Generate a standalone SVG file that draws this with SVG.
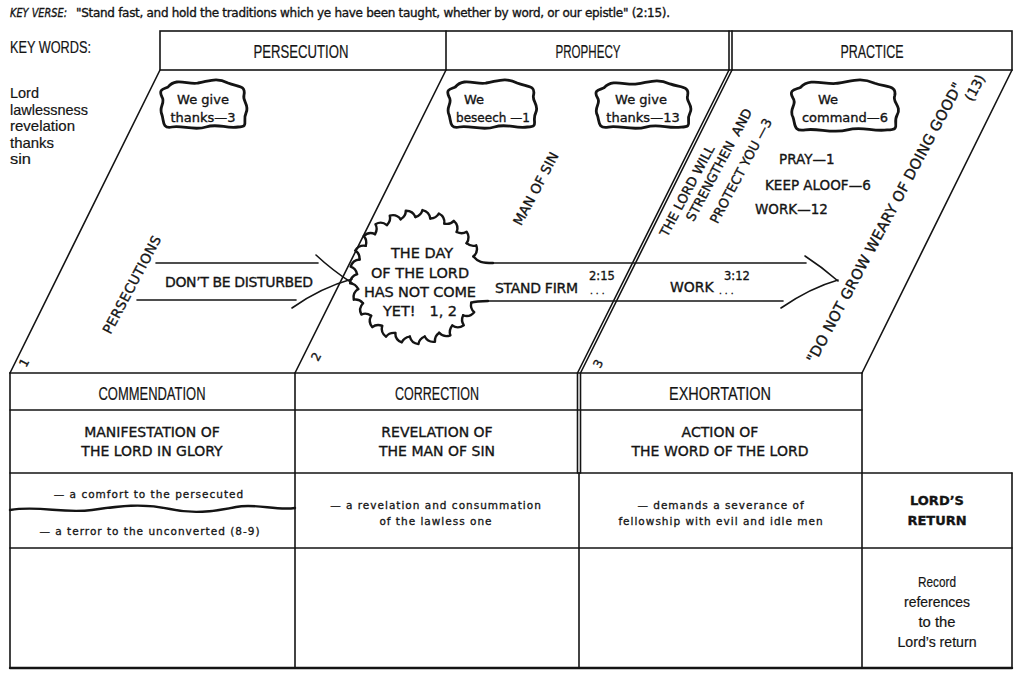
<svg xmlns="http://www.w3.org/2000/svg" xmlns:xlink="http://www.w3.org/1999/xlink" width="1022" height="674" viewBox="0 0 1022 674">
<style>
.ln{stroke:#141414;stroke-width:1.6;fill:none;stroke-linecap:round}
.bd{stroke:#141414;stroke-width:2.4;fill:none;stroke-linejoin:round;stroke-linecap:round}
.cl{stroke:#141414;stroke-width:2.8;fill:#fff;stroke-linejoin:round}
.g{font-family:"DejaVu Sans","Liberation Sans",sans-serif;fill:#141414;stroke:#141414;stroke-width:0.35px}
.c{font-family:"Liberation Sans",Arial,sans-serif;fill:#141414;stroke:#141414;stroke-width:0.2px}
.m{text-anchor:middle}
.s{font-size:10.5px;letter-spacing:1px;stroke-width:0.3px}
.kw{font-size:15px}
</style>
<defs>
<path id="cloud" vector-effect="non-scaling-stroke" d="M10,8 C18,-2 30,6 40,4 C52,2 58,-2 70,4 C80,8 88,6 86,16 C84,22 92,26 88,34 C84,42 92,48 80,48 C68,50 60,44 48,48 C36,52 24,46 14,48 C4,50 6,42 4,36 C0,28 8,24 4,18 C0,10 6,10 10,8 Z"/>
<path id="tooth" d="M60,0 C64,-1.5 66.5,-4.5 66.5,-9.5 C63,-9.5 60,-11.5 58.14,-14.82"/>
</defs>
<rect width="1022" height="674" fill="#fff"/>

<g id="key">
<text class="g" x="10" y="17" font-size="12" font-style="italic" textLength="57" lengthAdjust="spacingAndGlyphs">KEY VERSE:</text>
<text class="g" x="76" y="17" font-size="12" textLength="594" lengthAdjust="spacing">"Stand fast, and hold the traditions which ye have been taught, whether by word, or our epistle" (2:15).</text>
<text class="c" x="10" y="53" font-size="17" textLength="81" lengthAdjust="spacingAndGlyphs">KEY WORDS:</text>
<text class="c kw" x="10" y="98" textLength="29" lengthAdjust="spacingAndGlyphs">Lord</text>
<text class="c kw" x="10" y="114.5" textLength="78" lengthAdjust="spacingAndGlyphs">lawlessness</text>
<text class="c kw" x="10" y="131" textLength="65" lengthAdjust="spacingAndGlyphs">revelation</text>
<text class="c kw" x="10" y="147.5" textLength="44" lengthAdjust="spacingAndGlyphs">thanks</text>
<text class="c kw" x="10" y="164" textLength="21" lengthAdjust="spacingAndGlyphs">sin</text>
</g>

<g id="header">
<rect class="ln" x="160" y="31" width="852" height="39"/>
<line class="ln" x1="446" y1="31" x2="446" y2="70"/>
<line class="ln" x1="729" y1="31" x2="729" y2="70"/>
<line class="ln" x1="732" y1="31" x2="732" y2="70"/>
<text class="c m" x="301" y="58" font-size="18" textLength="95" lengthAdjust="spacingAndGlyphs">PERSECUTION</text>
<text class="c m" x="588" y="58" font-size="18" textLength="65" lengthAdjust="spacingAndGlyphs">PROPHECY</text>
<text class="c m" x="872" y="58" font-size="18" textLength="63" lengthAdjust="spacingAndGlyphs">PRACTICE</text>
</g>

<g id="panels">
<line class="ln" x1="160" y1="70" x2="10" y2="373"/>
<line class="ln" x1="446" y1="70" x2="295" y2="373"/>
<line class="ln" x1="729" y1="70" x2="577.5" y2="373"/>
<line class="ln" x1="732" y1="70" x2="580.5" y2="373"/>
<line class="ln" x1="1012" y1="70" x2="862" y2="373"/>
<text class="g" font-size="12" transform="translate(26,368) rotate(-62)">1</text>
<text class="g" font-size="12" transform="translate(318,362) rotate(-62)">2</text>
<text class="g" font-size="12" transform="translate(600,369) rotate(-62)">3</text>
</g>

<g id="persecution">
<use xlink:href="#cloud" class="cl" transform="translate(158,79)"/>
<text class="g m" x="203" y="104" font-size="13">We give</text>
<text class="g m" x="203" y="122" font-size="13">thanks—3</text>
<text class="g m" font-size="13.5" textLength="109" transform="translate(136,287) rotate(-62)">PERSECUTIONS</text>
<text class="g m" x="239" y="287" font-size="14" textLength="148">DON’T BE DISTURBED</text>
</g>

<g id="prophecy">
<use xlink:href="#cloud" class="cl" transform="translate(445,79) scale(1.03,1)"/>
<text class="g" x="464" y="104" font-size="13">We</text>
<text class="g" x="456" y="122" font-size="13" textLength="74" lengthAdjust="spacingAndGlyphs">beseech —1</text>
<use xlink:href="#cloud" class="cl" transform="translate(593,80) scale(1.1,0.98)"/>
<text class="g m" x="641" y="104" font-size="13">We give</text>
<text class="g m" x="643" y="122" font-size="13">thanks—13</text>
<text class="g m" font-size="13.5" transform="translate(540,191) rotate(-62)">MAN OF SIN</text>
</g>

<g id="sun">
<g class="bd" transform="translate(417,277)">
<use xlink:href="#tooth" transform="rotate(-20)"/>
<use xlink:href="#tooth" transform="rotate(-34.3)"/>
<use xlink:href="#tooth" transform="rotate(-48.6)"/>
<use xlink:href="#tooth" transform="rotate(-62.9)"/>
<use xlink:href="#tooth" transform="rotate(-77.2)"/>
<use xlink:href="#tooth" transform="rotate(-91.5)"/>
<use xlink:href="#tooth" transform="rotate(-105.8)"/>
<use xlink:href="#tooth" transform="rotate(-120.1)"/>
<use xlink:href="#tooth" transform="rotate(-134.4)"/>
<use xlink:href="#tooth" transform="rotate(-148.7)"/>
<use xlink:href="#tooth" transform="rotate(-163)"/>
<use xlink:href="#tooth" transform="rotate(-177.3)"/>
<use xlink:href="#tooth" transform="rotate(-191.6)"/>
<use xlink:href="#tooth" transform="rotate(-205.9)"/>
<use xlink:href="#tooth" transform="rotate(-220.2)"/>
<use xlink:href="#tooth" transform="rotate(-234.5)"/>
<use xlink:href="#tooth" transform="rotate(-248.8)"/>
<use xlink:href="#tooth" transform="rotate(-263.1)"/>
<use xlink:href="#tooth" transform="rotate(-277.4)"/>
<use xlink:href="#tooth" transform="rotate(-291.7)"/>
<use xlink:href="#tooth" transform="rotate(-306)"/>
<use xlink:href="#tooth" transform="rotate(-320.3)"/>
</g>
<text class="g m" x="422" y="258" font-size="14.5">THE DAY</text>
<text class="g m" x="420" y="278" font-size="14.5">OF THE LORD</text>
<text class="g m" x="420" y="297" font-size="14.5" textLength="112">HAS NOT COME</text>
<text class="g m" x="420" y="316" font-size="14.5" xml:space="preserve">YET!   1, 2</text>
</g>

<g id="practice">
<use xlink:href="#cloud" class="cl" transform="translate(788,79) scale(1.24,1.06)"/>
<text class="g" x="818" y="104" font-size="13">We</text>
<text class="g m" x="845" y="122" font-size="13">command—6</text>
<text class="g" x="779" y="164" font-size="13.5">PRAY—1</text>
<text class="g" x="765" y="190" font-size="13.5">KEEP ALOOF—6</text>
<text class="g" x="755" y="214" font-size="13.5">WORK—12</text>
<text class="g m" font-size="13" transform="translate(691,193) rotate(-62)">THE LORD WILL</text>
<text class="g m" font-size="13" transform="translate(723,167) rotate(-62)" xml:space="preserve">STRENGTHEN  AND</text>
<text class="g m" font-size="13" transform="translate(745,173) rotate(-62)">PROTECT YOU —3</text>
<text class="g m" font-size="14.5" textLength="315" transform="translate(889,225) rotate(-62)">"DO NOT GROW WEARY OF DOING GOOD"</text>
<text class="g m" font-size="13.5" transform="translate(979,90) rotate(-62)">(13)</text>
</g>

<g id="connectors">
<path class="ln" d="M156,263 H318"/>
<path class="ln" d="M137,300 H296"/>
<path class="ln" d="M316,255 Q332,270 352,283"/>
<path class="ln" d="M292,308 Q320,288 352,279"/>
<path class="bd" d="M473.4,256.5 C478,262 482,263 493,263"/>
<path class="bd" d="M471.2,302.7 C476,301 480,301 488,301"/>
<path class="ln" d="M493,263 H806"/>
<path class="ln" d="M488,301 H783"/>
<path class="ln" d="M805,256 Q822,267 838,281"/>
<path class="ln" d="M781,308 Q810,288 838,280"/>
<text class="g" x="495" y="293" font-size="14" textLength="83">STAND FIRM</text>
<text class="g" x="589" y="280" font-size="11.5">2:15</text>
<text class="g" x="590" y="294" font-size="9" letter-spacing="3">...</text>
<text class="g" x="670" y="292" font-size="14">WORK</text>
<text class="g" x="724" y="280" font-size="11.5">3:12</text>
<text class="g" x="719" y="294" font-size="9" letter-spacing="3">...</text>
</g>

<g id="table">
<path class="ln" d="M10,373 H862 M10,410 H862 M10,473 H1012 M10,548 H1012"/>
<path class="bd" d="M10,668 H1012"/>
<path class="ln" d="M10,373 V668 M295,373 V668 M862,373 V668 M1012,473 V668 M577.5,373 V473 M580.5,373 V473 M579,473 V668"/>
<path class="bd" d="M10,510 C40,505 62,514 92,510 C120,506 142,503 170,509 C192,514 212,512 236,507 C256,503 276,511 295,508"/>
<text class="c m" x="152" y="400" font-size="17.5" textLength="107" lengthAdjust="spacingAndGlyphs">COMMENDATION</text>
<text class="c m" x="437" y="400" font-size="17.5" textLength="84" lengthAdjust="spacingAndGlyphs">CORRECTION</text>
<text class="c m" x="720" y="400" font-size="17.5" textLength="102" lengthAdjust="spacingAndGlyphs">EXHORTATION</text>
<text class="g m" x="152" y="437" font-size="14">MANIFESTATION OF</text>
<text class="g m" x="152" y="456" font-size="14">THE LORD IN GLORY</text>
<text class="g m" x="437" y="437" font-size="14">REVELATION OF</text>
<text class="g m" x="437" y="456" font-size="14">THE MAN OF SIN</text>
<text class="g m" x="720" y="437" font-size="14">ACTION OF</text>
<text class="g m" x="720" y="456" font-size="14">THE WORD OF THE LORD</text>
<text class="g m s" x="149" y="498">— a comfort to the persecuted</text>
<text class="g m s" x="150" y="535">— a terror to the unconverted (8-9)</text>
<text class="g m s" x="436" y="509">— a revelation and consummation</text>
<text class="g m s" x="436" y="525">of the lawless one</text>
<text class="g m s" x="721" y="509">— demands a severance of</text>
<text class="g m s" x="721" y="525">fellowship with evil and idle men</text>
<text class="g m" x="937" y="505" font-size="13" font-weight="bold">LORD’S</text>
<text class="g m" x="937" y="525" font-size="13" font-weight="bold">RETURN</text>
<text class="c m" x="937" y="587" font-size="15" textLength="38" lengthAdjust="spacingAndGlyphs">Record</text>
<text class="c m" x="937" y="607" font-size="15" textLength="66" lengthAdjust="spacingAndGlyphs">references</text>
<text class="c m" x="937" y="627" font-size="15" textLength="37" lengthAdjust="spacingAndGlyphs">to the</text>
<text class="c m" x="937" y="647" font-size="15" textLength="79" lengthAdjust="spacingAndGlyphs">Lord’s return</text>
</g>
</svg>
